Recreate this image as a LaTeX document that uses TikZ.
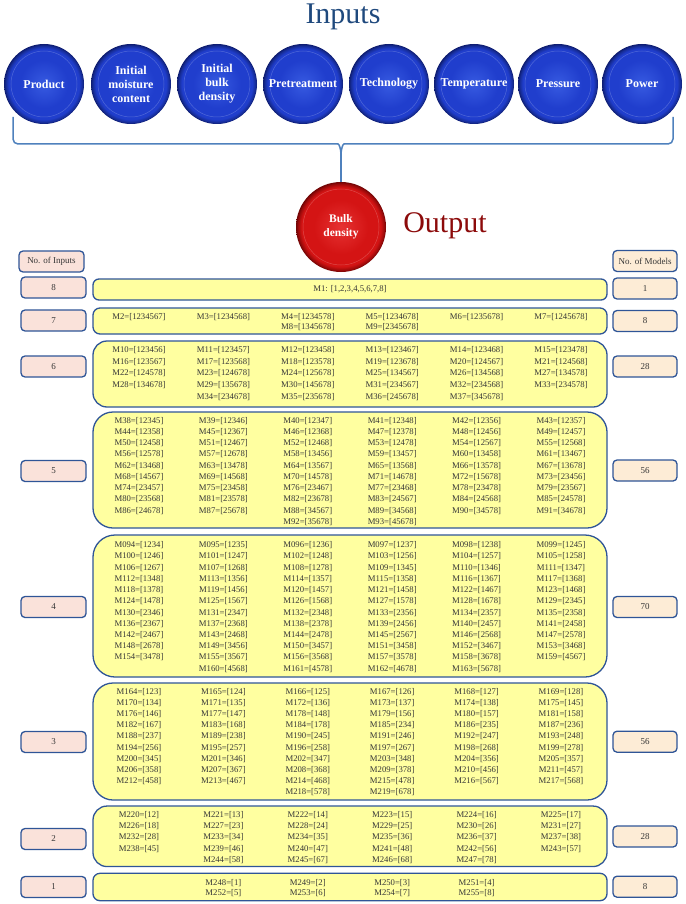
\documentclass[tikz,border=0pt]{standalone}
\usepackage{fontspec}
\setmainfont{Liberation Serif}
\usetikzlibrary{shapes.geometric}
\definecolor{bluemain}{RGB}{32,62,205}
\definecolor{bluehi}{RGB}{55,90,225}
\definecolor{bluedark}{RGB}{22,44,150}
\definecolor{bluedeep}{RGB}{14,28,110}
\definecolor{redmain}{RGB}{212,20,20}
\definecolor{redhi}{RGB}{230,50,50}
\definecolor{reddark}{RGB}{155,10,10}
\definecolor{reddeep}{RGB}{110,5,5}
\definecolor{titleblue}{RGB}{31,73,125}
\definecolor{titlered}{RGB}{140,10,10}
\definecolor{bracecol}{RGB}{79,129,189}
\definecolor{yellowfill}{RGB}{255,255,160}
\definecolor{boxedge}{RGB}{47,85,151}
\definecolor{pinkfill}{RGB}{250,226,218}
\definecolor{peachfill}{RGB}{253,236,214}
\definecolor{celltext}{RGB}{55,55,55}
\pgfdeclareradialshading{ballblue}{\pgfpoint{0bp}{0bp}}{color(0bp)=(bluehi); color(15bp)=(bluemain); color(22bp)=(bluemain); color(24bp)=(bluedark); color(25bp)=(bluedeep); color(50bp)=(bluedeep)}
\pgfdeclareradialshading{ballred}{\pgfpoint{0bp}{0bp}}{color(0bp)=(redhi); color(15bp)=(redmain); color(22bp)=(redmain); color(24bp)=(reddark); color(25bp)=(reddeep); color(50bp)=(reddeep)}
\newcounter{cellno}
\newcommand\blkY{0}
\newcommand\blkS{0}
\newcommand\Q[4]{\stepcounter{cellno}\node[cell] (cell\arabic{cellno}) at ({350+84.4*(#1-3.5)},{\blkY+\blkS*(#2)}) {M#3=[#4]};}
\newcommand\R[8]{\Q{1}{#1}{\the\numexpr#2\relax}{#3}\Q{2}{#1}{\the\numexpr#2+1\relax}{#4}\Q{3}{#1}{\the\numexpr#2+2\relax}{#5}\Q{4}{#1}{\the\numexpr#2+3\relax}{#6}\Q{5}{#1}{\the\numexpr#2+4\relax}{#7}\Q{6}{#1}{\the\numexpr#2+5\relax}{#8}}
\tikzset{
  incirc/.style={circle, minimum size=80pt, inner sep=0pt, shading=ballblue, text=white,
    font=\bfseries\fontsize{12}{14}\selectfont, align=center,
    path picture={\draw[white, opacity=0.22, line width=0.5pt] (path picture bounding box.center) circle (33pt);}},
  outcirc/.style={circle, minimum size=90pt, inner sep=0pt, shading=ballred, text=white,
    font=\bfseries\fontsize{11.5}{14}\selectfont, align=center,
    path picture={\draw[white, opacity=0.22, line width=0.5pt] (path picture bounding box.center) circle (38pt);}},
  ybox/.style={draw=boxedge, line width=1.3pt, fill=yellowfill, minimum width=514pt, inner sep=0pt},
  lbox/.style={draw=boxedge, line width=1.3pt, fill=pinkfill, minimum width=65pt, minimum height=21pt, rounded corners=4pt, inner sep=0pt, font=\fontsize{9}{10}\selectfont, text=celltext},
  rbox/.style={draw=boxedge, line width=1.3pt, fill=peachfill, minimum width=64pt, minimum height=21pt, rounded corners=4pt, inner sep=0pt, font=\fontsize{9}{10}\selectfont, text=celltext},
  cell/.style={inner sep=0pt, font=\fontsize{8.7}{10}\selectfont, text=celltext},
  bracepath/.style={draw=bracecol, line width=1.5pt}
}
\begin{document}
\begin{tikzpicture}[x=1pt,y=-1pt]
\useasboundingbox (0,0) rectangle (685,904);
% titles
\node[anchor=base, font=\fontsize{30}{30}\selectfont, text=titleblue] (intitle) at (343,24) {Inputs};
\node[anchor=base, font=\fontsize{30}{30}\selectfont, text=titlered] (outtitle) at (445,232) {Output};
% input circles
\node[incirc] (c1) at (44,84) {Product};
\node[incirc] (c2) at (131,84) {Initial\\moisture\\content};
\node[incirc] (c3) at (217,84) {Initial\\bulk\\density};
\node[incirc] (c4) at (303,84) {Pretreatment};
\node[incirc] (c5) at (389,84) {Technology};
\node[incirc] (c6) at (474,84) {Temperature};
\node[incirc] (c7) at (558,84) {Pressure};
\node[incirc] (c8) at (642,84) {Power};
% output circle
\node[outcirc] (out) at (341,227) {Bulk\\density};
% brace
\coordinate (bl) at (13,117);
\coordinate (br) at (673,117);
\coordinate (bm) at (341,156);
\draw[bracepath, rounded corners=5pt] (bl) -- (13,144) -- (333,144) .. controls (339,144) and (341,148) .. (bm);
\draw[bracepath, rounded corners=5pt] (br) -- (673,144) -- (349,144) .. controls (343,144) and (341,148) .. (bm);
\draw[bracepath] (bm) -- (out.north);
% headers
\node[lbox] (hin) at (51.5,261.5) {No. of Inputs};
\node[rbox] (hmod) at (645,261) {No. of Models};
% row boxes
\node[ybox, minimum height=21pt, rounded corners=6pt] (b8) at (350,289.5) {};
\node[ybox, minimum height=26pt, rounded corners=7pt] (b7) at (350,321) {};
\node[ybox, minimum height=66pt, rounded corners=14pt] (b6) at (350,374) {};
\node[ybox, minimum height=116pt, rounded corners=20pt] (b5) at (350,470) {};
\node[ybox, minimum height=142pt, rounded corners=22pt] (b4) at (350,606) {};
\node[ybox, minimum height=117pt, rounded corners=20pt] (b3) at (350,741.5) {};
\node[ybox, minimum height=60.5pt, rounded corners=14pt] (b2) at (350,836.3) {};
\node[ybox, minimum height=27.4pt, rounded corners=7pt] (b1) at (350,887) {};
% left boxes
\node[lbox] (l8) at (53.5,287.5) {8};
\node[lbox] (l7) at (53.5,320.5) {7};
\node[lbox] (l6) at (53.5,366.5) {6};
\node[lbox] (l5) at (53.5,471) {5};
\node[lbox] (l4) at (53.5,607) {4};
\node[lbox] (l3) at (53.5,742) {3};
\node[lbox] (l2) at (53.5,839) {2};
\node[lbox] (l1) at (53.5,887) {1};
% right boxes
\node[rbox] (r8) at (645,288.5) {1};
\node[rbox] (r7) at (645,321) {8};
\node[rbox] (r6) at (645,366.5) {28};
\node[rbox] (r5) at (645,470.5) {56};
\node[rbox] (r4) at (645,607) {70};
\node[rbox] (r3) at (645,741.7) {56};
\node[rbox] (r2) at (645,836.5) {28};
\node[rbox] (r1) at (645,886.7) {8};
% block 8
\node[cell] (m1) at (350,289.3) {M1: [1,2,3,4,5,6,7,8]};
% block 7
\renewcommand\blkY{317.3}\renewcommand\blkS{10}
\R{0}{2}{1234567}{1234568}{1234578}{1234678}{1235678}{1245678}
\Q{3}{1}{8}{1345678}\Q{4}{1}{9}{2345678}
% block 6
\renewcommand\blkY{350}\renewcommand\blkS{11.7}
\R{0}{10}{123456}{123457}{123458}{123467}{123468}{123478}
\R{1}{16}{123567}{123568}{123578}{123678}{124567}{124568}
\R{2}{22}{124578}{124678}{125678}{134567}{134568}{134578}
\R{3}{28}{134678}{135678}{145678}{234567}{234568}{234578}
\Q{2}{4}{34}{234678}\Q{3}{4}{35}{235678}\Q{4}{4}{36}{245678}\Q{5}{4}{37}{345678}
% block 5
\renewcommand\blkY{420.7}\renewcommand\blkS{11.26}
\R{0}{38}{12345}{12346}{12347}{12348}{12356}{12357}
\R{1}{44}{12358}{12367}{12368}{12378}{12456}{12457}
\R{2}{50}{12458}{12467}{12468}{12478}{12567}{12568}
\R{3}{56}{12578}{12678}{13456}{13457}{13458}{13467}
\R{4}{62}{13468}{13478}{13567}{13568}{13578}{13678}
\R{5}{68}{14567}{14568}{14578}{14678}{15678}{23456}
\R{6}{74}{23457}{23458}{23467}{23468}{23478}{23567}
\R{7}{80}{23568}{23578}{23678}{24567}{24568}{24578}
\R{8}{86}{24678}{25678}{34567}{34568}{34578}{34678}
\Q{3}{9}{92}{35678}\Q{4}{9}{93}{45678}
% block 4
\renewcommand\blkY{545.3}\renewcommand\blkS{11.22}
\Q{1}{0}{094}{1234}\Q{2}{0}{095}{1235}\Q{3}{0}{096}{1236}\Q{4}{0}{097}{1237}\Q{5}{0}{098}{1238}\Q{6}{0}{099}{1245}
\R{1}{100}{1246}{1247}{1248}{1256}{1257}{1258}
\R{2}{106}{1267}{1268}{1278}{1345}{1346}{1347}
\R{3}{112}{1348}{1356}{1357}{1358}{1367}{1368}
\R{4}{118}{1378}{1456}{1457}{1458}{1467}{1468}
\R{5}{124}{1478}{1567}{1568}{1578}{1678}{2345}
\R{6}{130}{2346}{2347}{2348}{2356}{2357}{2358}
\R{7}{136}{2367}{2368}{2378}{2456}{2457}{2458}
\R{8}{142}{2467}{2468}{2478}{2567}{2568}{2578}
\R{9}{148}{2678}{3456}{3457}{3458}{3467}{3468}
\R{10}{154}{3478}{3567}{3568}{3578}{3678}{4567}
\Q{2}{11}{160}{4568}\Q{3}{11}{161}{4578}\Q{4}{11}{162}{4678}\Q{5}{11}{163}{5678}
% block 3
\renewcommand\blkY{691.7}\renewcommand\blkS{11.2}
\R{0}{164}{123}{124}{125}{126}{127}{128}
\R{1}{170}{134}{135}{136}{137}{138}{145}
\R{2}{176}{146}{147}{148}{156}{157}{158}
\R{3}{182}{167}{168}{178}{234}{235}{236}
\R{4}{188}{237}{238}{245}{246}{247}{248}
\R{5}{194}{256}{257}{258}{267}{268}{278}
\R{6}{200}{345}{346}{347}{348}{356}{357}
\R{7}{206}{358}{367}{368}{378}{456}{457}
\R{8}{212}{458}{467}{468}{478}{567}{568}
\Q{3}{9}{218}{578}\Q{4}{9}{219}{678}
% block 2
\renewcommand\blkY{815}\renewcommand\blkS{11.2}
\R{0}{220}{12}{13}{14}{15}{16}{17}
\R{1}{226}{18}{23}{24}{25}{26}{27}
\R{2}{232}{28}{34}{35}{36}{37}{38}
\R{3}{238}{45}{46}{47}{48}{56}{57}
\Q{2}{4}{244}{58}\Q{3}{4}{245}{67}\Q{4}{4}{246}{68}\Q{5}{4}{247}{78}
% block 1
\renewcommand\blkY{882.7}\renewcommand\blkS{10.6}
\Q{2}{0}{248}{1}\Q{3}{0}{249}{2}\Q{4}{0}{250}{3}\Q{5}{0}{251}{4}
\Q{2}{1}{252}{5}\Q{3}{1}{253}{6}\Q{4}{1}{254}{7}\Q{5}{1}{255}{8}
\end{tikzpicture}
\end{document}
